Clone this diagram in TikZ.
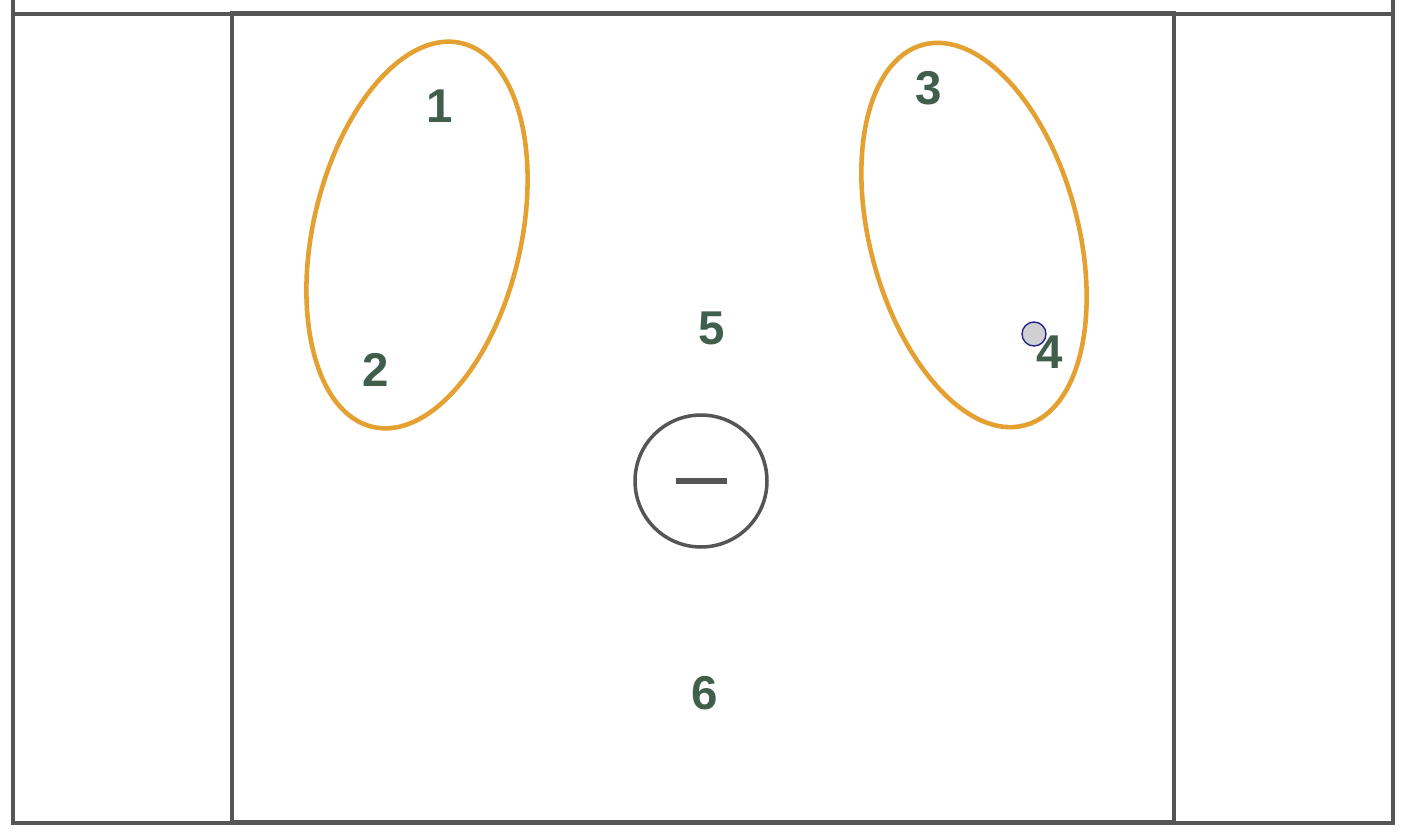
\documentclass[tikz,border=0pt]{standalone}
\usepackage{fontspec}
\setmainfont{Liberation Sans}
\usepackage{tikz}
\usetikzlibrary{shapes.geometric}
\definecolor{fieldgray}{HTML}{555555}
\definecolor{zoneorange}{HTML}{E4A131}
\definecolor{playergreen}{HTML}{405E4C}
\definecolor{balledge}{HTML}{26268A}
\definecolor{ballfill}{HTML}{D0D0D2}
\tikzstyle{fieldline} = [draw=fieldgray, line width=2.1pt]
\tikzstyle{zone} = [draw=zoneorange, line width=2.6pt]
\tikzstyle{player} = [text=playergreen, font=\fontsize{27}{27}\selectfont\bfseries, inner sep=0pt]
\tikzstyle{crease} = [circle, draw=fieldgray, line width=2pt, minimum size=2.64cm, inner sep=0pt]
\tikzstyle{ball} = [circle, draw=balledge, fill=ballfill, line width=0.8pt, minimum size=0.48cm, inner sep=0pt]

\begin{document}
\begin{tikzpicture}[x=0.02cm, y=-0.02cm]
      \useasboundingbox (0,0) rectangle (1406,832);
      \fill[white] (0,0) rectangle (1406,832);

      \draw [fieldline] (13,0) -- (13,823) -- (1393,823) -- (1393,0);
      \draw [fieldline] (13,14) -- (1393,14);
      \draw [fieldline] (232,13) rectangle (1174,822);

      \node (goal) [crease] at (701,481) {};
      \draw [draw=fieldgray, line width=3.4pt] ([xshift=-0.5cm]goal.center) -- ([xshift=0.52cm]goal.center);

      \draw [zone] (417,235) circle [x radius=2.08cm, y radius=3.94cm, rotate=-13];
      \draw [zone] (974,235) circle [x radius=2.08cm, y radius=3.94cm, rotate=15];

      \node (p1) [player] at (440,106) {1};
      \node (p2) [player] at (376,370) {2};
      \node (p3) [player] at (929,88)  {3};
      \node (p4) [player] at (1050,352) {4};
      \node (p5) [player] at (712,328) {5};
      \node (p6) [player] at (705,693) {6};

      \node (ball) [ball] at (1034,334) {};
\end{tikzpicture}
\end{document}
